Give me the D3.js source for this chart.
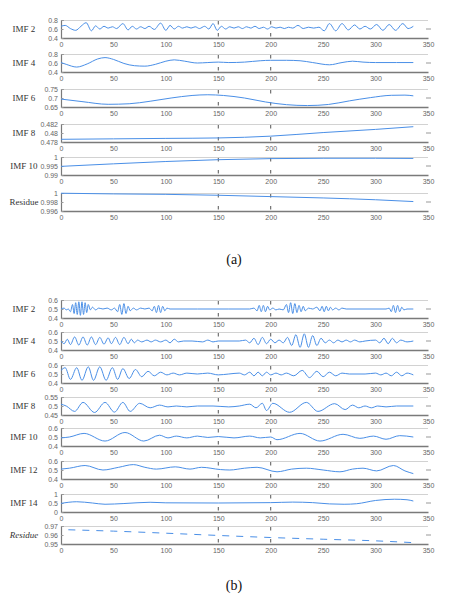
<!DOCTYPE html>
<html>
<head>
<meta charset="utf-8">
<script src="https://cdn.jsdelivr.net/npm/d3@7"></script>
<style>
  body { margin: 0; background: #fff; }
  svg { display: block; }
</style>
</head>
<body>
<svg id="chart"></svg>
<script>
// ---- data: [sample, value] ----
const xTicks = [0, 50, 100, 150, 200, 250, 300, 350];

// (a)
const labelsA = ["IMF 2", "IMF 4", "IMF 6", "IMF 8", "IMF 10", "Residue"];
const yTicksA = [
  [0.4, 0.6, 0.8], [0.4, 0.6, 0.8], [0.65, 0.7, 0.75],
  [0.478, 0.48, 0.482], [0.99, 0.995, 1], [0.996, 0.998, 1]
];
const aImf2 = [[0,0.66],[4,0.68],[9,0.61],[14,0.57],[19,0.66],[24,0.74],[29,0.56],[33,0.67],[37,0.60],[41,0.66],[45,0.62],[49,0.65],[53,0.61],[59,0.72],[64,0.58],[68,0.66],[72,0.60],[76,0.65],[80,0.61],[84,0.66],[89,0.59],[95,0.73],[100,0.57],[104,0.68],[108,0.60],[112,0.66],[116,0.62],[120,0.65],[124,0.62],[128,0.65],[132,0.61],[137,0.66],[141,0.60],[145,0.72],[149,0.57],[153,0.66],[157,0.60],[161,0.65],[165,0.62],[169,0.65],[173,0.61],[177,0.65],[181,0.62],[185,0.66],[189,0.61],[193,0.64],[197,0.60],[201,0.65],[205,0.62],[209,0.64],[213,0.61],[217,0.64],[221,0.62],[226,0.68],[231,0.61],[236,0.64],[241,0.62],[246,0.64],[251,0.56],[256,0.72],[262,0.56],[268,0.72],[274,0.58],[280,0.69],[285,0.60],[290,0.66],[295,0.60],[301,0.70],[307,0.57],[313,0.70],[319,0.57],[326,0.72],[331,0.61],[336,0.66]];
const aImf4 = [[0,0.61],[5,0.57],[15,0.51],[25,0.58],[35,0.69],[42,0.72],[50,0.68],[60,0.59],[70,0.54],[80,0.53],[90,0.57],[100,0.64],[108,0.67],[118,0.64],[130,0.60],[140,0.61],[150,0.62],[160,0.61],[175,0.62],[190,0.65],[200,0.66],[215,0.66],[228,0.65],[240,0.61],[256,0.56],[268,0.61],[278,0.64],[288,0.62],[300,0.61],[320,0.61],[336,0.61]];
const aImf6 = [[0,0.694],[20,0.680],[45,0.665],[65,0.668],[85,0.682],[105,0.700],[125,0.714],[140,0.718],[155,0.714],[175,0.700],[195,0.678],[215,0.663],[235,0.658],[255,0.664],[275,0.684],[295,0.702],[315,0.715],[328,0.716],[336,0.712]];
const aImf8 = [[0,0.4786],[50,0.4787],[100,0.4788],[150,0.4789],[200,0.4793],[250,0.4801],[300,0.4808],[336,0.4814]];
const aImf10 = [[0,0.9948],[50,0.9962],[100,0.9975],[150,0.9985],[200,0.9991],[250,0.9993],[300,0.9993],[336,0.9992]];
const aRes = [[0,0.99995],[50,0.9998],[100,0.9997],[150,0.9995],[200,0.9992],[250,0.9989],[300,0.9985],[336,0.9981]];

// (b)
const labelsB = ["IMF 2", "IMF 4", "IMF 6", "IMF 8", "IMF 10", "IMF 12", "IMF 14", "Residue"];
const yTicksB = [
  [0.4, 0.5, 0.6], [0.4, 0.5, 0.6], [0.4, 0.5, 0.6], [0.45, 0.5, 0.55],
  [0.4, 0.5, 0.6], [0.4, 0.5, 0.6], [0, 0.5, 1], [0.95, 0.96, 0.97]
];
const bImf2 = [[0,0.50],[3,0.51],[5,0.49],[7,0.50],[9,0.47],[11,0.55],[12.5,0.45],[14,0.57],[15.5,0.44],[17,0.58],[18.5,0.43],[20,0.58],[21.5,0.44],[23,0.57],[24.5,0.46],[26,0.55],[28,0.49],[30,0.52],[33,0.49],[36,0.51],[40,0.50],[44,0.51],[48,0.49],[51,0.51],[54,0.47],[56,0.55],[58,0.44],[60,0.56],[62,0.45],[64,0.53],[66,0.48],[69,0.51],[72,0.49],[76,0.51],[80,0.50],[84,0.51],[87,0.48],[89,0.53],[91,0.46],[93,0.54],[95,0.46],[97,0.53],[99,0.48],[101,0.51],[104,0.50],[130,0.50],[160,0.50],[180,0.50],[184,0.51],[187,0.48],[189,0.54],[191,0.47],[193,0.54],[195,0.47],[197,0.53],[199,0.49],[202,0.51],[205,0.49],[208,0.50],[212,0.49],[215,0.55],[217,0.46],[219,0.57],[221,0.45],[223,0.56],[225,0.46],[227,0.54],[229,0.47],[231,0.53],[233,0.48],[236,0.51],[240,0.50],[244,0.52],[247,0.48],[249,0.53],[251,0.47],[253,0.53],[255,0.48],[257,0.52],[259,0.49],[262,0.51],[265,0.49],[268,0.51],[272,0.50],[310,0.50],[313,0.51],[315,0.47],[317,0.54],[319,0.46],[321,0.54],[323,0.47],[325,0.52],[327,0.49],[330,0.50],[336,0.50]];
const bImf4 = [[0,0.50],[3,0.47],[6,0.52],[9,0.46],[13,0.545],[17,0.455],[21,0.545],[25,0.455],[29,0.545],[33,0.46],[37,0.54],[41,0.465],[45,0.535],[48,0.47],[52,0.54],[56,0.46],[60,0.54],[64,0.47],[67,0.52],[70,0.48],[73,0.51],[77,0.49],[82,0.51],[86,0.49],[90,0.51],[95,0.49],[100,0.51],[104,0.48],[108,0.52],[112,0.49],[117,0.50],[125,0.50],[135,0.49],[140,0.51],[145,0.49],[150,0.50],[170,0.50],[176,0.51],[180,0.48],[184,0.53],[188,0.46],[192,0.54],[196,0.47],[200,0.52],[204,0.48],[208,0.51],[212,0.48],[216,0.54],[220,0.45],[224,0.57],[228,0.43],[232,0.58],[236,0.43],[240,0.56],[244,0.45],[248,0.53],[252,0.48],[256,0.51],[260,0.48],[264,0.51],[268,0.49],[272,0.51],[276,0.49],[280,0.51],[285,0.49],[290,0.50],[300,0.51],[304,0.48],[308,0.53],[312,0.47],[316,0.53],[320,0.48],[324,0.51],[330,0.49],[336,0.50]];
const bImf6 = [[0,0.54],[4,0.57],[9,0.44],[15,0.57],[20,0.43],[26,0.58],[31,0.43],[37,0.58],[43,0.43],[49,0.57],[54,0.44],[59,0.56],[65,0.45],[71,0.55],[77,0.47],[83,0.53],[89,0.48],[95,0.52],[101,0.49],[107,0.51],[113,0.49],[120,0.51],[130,0.50],[140,0.51],[150,0.49],[160,0.50],[170,0.51],[175,0.49],[180,0.52],[184,0.48],[188,0.52],[192,0.48],[196,0.52],[200,0.49],[205,0.51],[210,0.49],[215,0.51],[222,0.48],[230,0.54],[237,0.46],[244,0.53],[250,0.47],[256,0.52],[262,0.48],[268,0.51],[275,0.50],[290,0.50],[300,0.51],[305,0.49],[310,0.51],[315,0.48],[320,0.52],[325,0.48],[330,0.51],[336,0.49]];
const bImf8 = [[0,0.51],[5,0.50],[13,0.47],[21,0.52],[32,0.464],[42,0.52],[51,0.466],[59,0.52],[66,0.47],[75,0.515],[85,0.49],[94,0.505],[102,0.495],[110,0.50],[120,0.495],[130,0.50],[145,0.50],[160,0.495],[170,0.50],[180,0.51],[186,0.49],[192,0.515],[196,0.475],[202,0.515],[218,0.465],[234,0.52],[245,0.47],[261,0.513],[271,0.48],[278,0.505],[284,0.49],[290,0.50],[296,0.49],[302,0.50],[310,0.495],[320,0.50],[336,0.50]];
const bImf10 = [[0,0.49],[8,0.50],[22,0.54],[42,0.455],[61,0.55],[79,0.455],[94,0.52],[102,0.49],[110,0.51],[120,0.49],[130,0.51],[140,0.495],[150,0.505],[165,0.49],[180,0.51],[190,0.49],[200,0.50],[206,0.47],[228,0.54],[247,0.455],[269,0.53],[285,0.485],[298,0.51],[310,0.475],[323,0.515],[336,0.50]];
const bImf12 = [[0,0.51],[8,0.52],[23,0.55],[40,0.50],[55,0.53],[69,0.56],[80,0.53],[91,0.51],[109,0.535],[123,0.51],[134,0.53],[152,0.505],[161,0.50],[175,0.52],[187,0.53],[206,0.48],[220,0.51],[234,0.52],[250,0.50],[266,0.48],[278,0.51],[288,0.52],[301,0.49],[317,0.55],[328,0.49],[336,0.46]];
const bImf14 = [[0,0.48],[15,0.57],[30,0.50],[42,0.43],[60,0.47],[85,0.54],[100,0.51],[150,0.50],[200,0.52],[221,0.55],[240,0.52],[256,0.45],[270,0.43],[282,0.46],[300,0.64],[318,0.71],[330,0.68],[336,0.61]];
const bRes = [[7,0.9658],[50,0.9643],[100,0.9620],[150,0.9595],[200,0.9572],[250,0.9553],[300,0.9535],[336,0.9515]];

const seriesA = [aImf2, aImf4, aImf6, aImf8, aImf10, aRes];
const seriesB = [bImf2, bImf4, bImf6, bImf8, bImf10, bImf12, bImf14, bRes];

// ---- layout ----
const W = 474, H = 594;
const topsA = [20, 54, 89, 124, 157, 193];
const topsB = [300, 332, 365, 397, 428, 461, 494, 526];
const ph = 18;
const lineColor = "#4a8fe7";
const serif = '"Liberation Serif", "Times New Roman", "DejaVu Serif", serif';
const sans = '"Liberation Sans", Arial, sans-serif';

const svg = d3.select("#chart").attr("width", W).attr("height", H);

const x = d3.scaleLinear().domain([0, 350]).range([61, 428]);

function panel(top, label, data, ticks, italic, dashed) {
  const y = d3.scaleLinear().domain([ticks[0], ticks[2]]).range([top + ph, top]);
  const g = svg.append("g");

  // top frame line
  g.append("line")
    .attr("x1", x(0)).attr("x2", x(350))
    .attr("y1", top + 0.5).attr("y2", top + 0.5)
    .attr("stroke", "#d2d2d2").attr("stroke-width", 1);

  // bottom axis
  const xa = g.append("g")
    .attr("transform", `translate(0,${top + ph})`)
    .call(d3.axisBottom(x).tickValues(xTicks).tickSize(0).tickPadding(4));
  xa.select(".domain").attr("stroke", "#7a7a7a").attr("stroke-width", 1.4);

  // left axis
  const ya = g.append("g")
    .attr("transform", `translate(${x(0)},0)`)
    .call(d3.axisLeft(y).tickValues(ticks).tickSize(-2.5).tickPadding(3).tickFormat(d => String(d)));
  ya.select(".domain").attr("stroke", "#7a7a7a").attr("stroke-width", 1.2);
  ya.selectAll(".tick line").attr("stroke", "#999");

  g.selectAll(".tick text")
    .attr("font-family", sans).attr("font-size", 7).attr("fill", "#666");

  // right tick at mid value
  g.append("line")
    .attr("x1", x(350) - 2).attr("x2", x(350) + 3)
    .attr("y1", y(ticks[1])).attr("y2", y(ticks[1]))
    .attr("stroke", "#999").attr("stroke-width", 1);

  // marks at 150 and 200
  [150, 200].forEach(v => {
    g.append("line").attr("x1", x(v)).attr("x2", x(v))
      .attr("y1", top + 1).attr("y2", top + 4.5)
      .attr("stroke", "#555").attr("stroke-width", 1);
    g.append("line").attr("x1", x(v)).attr("x2", x(v))
      .attr("y1", top + ph - 5).attr("y2", top + ph - 1.5)
      .attr("stroke", "#555").attr("stroke-width", 1);
  });

  // series
  const line = d3.line()
    .x(d => x(d[0]))
    .y(d => y(d[1]))
    .curve(d3.curveMonotoneX);
  g.append("path")
    .datum(data)
    .attr("d", line)
    .attr("fill", "none")
    .attr("stroke", lineColor)
    .attr("stroke-width", 1)
    .attr("stroke-dasharray", dashed ? "7,7" : null);

  // row label
  g.append("text")
    .attr("x", 24).attr("y", top + ph / 2)
    .attr("dy", "0.35em")
    .attr("text-anchor", "middle")
    .attr("font-family", serif)
    .attr("font-size", 9)
    .attr("fill", "#333")
    .attr("font-style", italic ? "italic" : "normal")
    .text(label);
}

labelsA.forEach((l, i) => panel(topsA[i], l, seriesA[i], yTicksA[i], false, false));
labelsB.forEach((l, i) => panel(topsB[i], l, seriesB[i], yTicksB[i], l === "Residue", l === "Residue"));

svg.append("text")
  .attr("x", 234).attr("y", 264).attr("text-anchor", "middle")
  .attr("font-family", serif).attr("font-size", 14).attr("fill", "#111")
  .text("(a)");
svg.append("text")
  .attr("x", 234).attr("y", 590).attr("text-anchor", "middle")
  .attr("font-family", serif).attr("font-size", 14).attr("fill", "#111")
  .text("(b)");
</script>
</body>
</html>
